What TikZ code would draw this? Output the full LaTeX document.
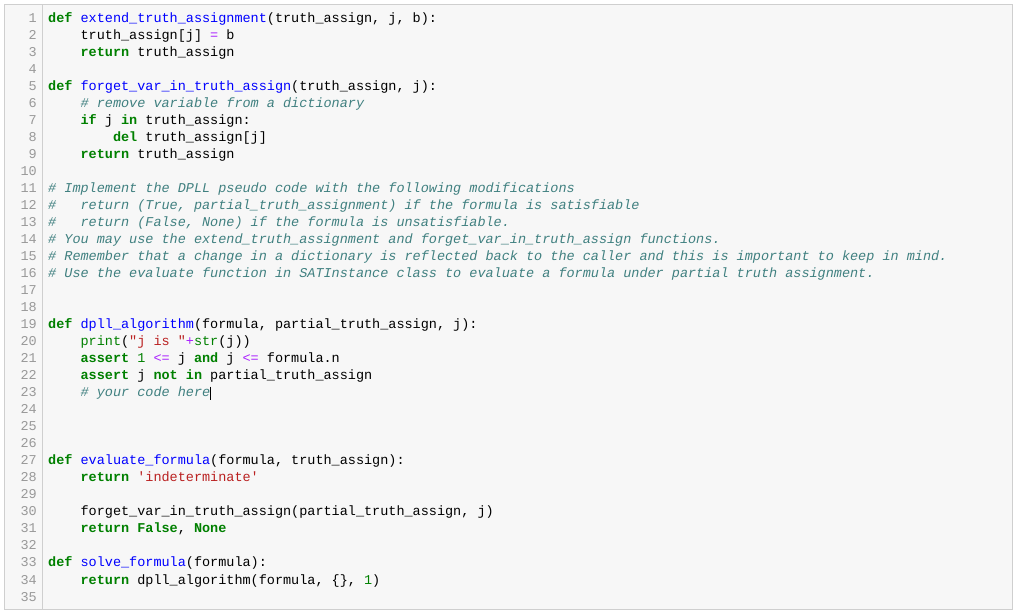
\documentclass[tikz,border=0pt]{standalone}
\usepackage{fontspec}
\newfontfamily\cf{Liberation Mono}
\newcommand\fixsp{\fontdimen2\font=0.6em\fontdimen3\font=0pt\fontdimen4\font=0pt\fontdimen7\font=0pt\relax}
\definecolor{kwc}{HTML}{008000}
\definecolor{fnc}{HTML}{0000FF}
\definecolor{cmc}{HTML}{408080}
\definecolor{stc}{HTML}{BA2121}
\definecolor{opc}{HTML}{AA22FF}
\definecolor{lnc}{HTML}{999999}
\definecolor{bgc}{HTML}{F7F7F7}
\definecolor{bdc}{HTML}{CFCFCF}
\newcommand\kw[1]{\textcolor{kwc}{\bfseries\fixsp #1}}
\newcommand\fn[1]{\textcolor{fnc}{#1}}
\newcommand\cm[1]{\textcolor{cmc}{\itshape\fixsp #1}}
\newcommand\st[1]{\textcolor{stc}{#1}}
\newcommand\op[1]{\textcolor{opc}{#1}}
\newcommand\nm[1]{\textcolor{kwc}{#1}}
\begin{document}
\begin{tikzpicture}[x=1pt,y=-1pt,
  L/.style={anchor=base west,inner sep=0pt,font=\cf\fontsize{13.5}{15}\selectfont\fixsp},
  N/.style={anchor=base east,inner sep=0pt,text=lnc,font=\cf\fontsize{13.5}{15}\selectfont}]
\useasboundingbox (0,0) rectangle (1016,613);
\fill[white] (0,0) rectangle (1016,613);
\draw[bdc,fill=bgc] (4.5,4.5) rectangle (1012.5,609.5);
\draw[bdc] (42,4.5) -- (42,609.5);
\foreach \i in {1,...,35}{\node[N] (n\i) at (37,{22+(\i-1)*17.03}) {\i};}
\def\A{48}\def\B{80.4}\def\C{112.8}
\newcommand\codeline[3]{\node[L] (l#1) at (#2,{22+(#1-1)*17.03}) {#3};}
\codeline{1}{\A}{\kw{def} \fn{extend\_truth\_assignment}(truth\_assign, j, b):}
\codeline{2}{\B}{truth\_assign[j] \op{=} b}
\codeline{3}{\B}{\kw{return} truth\_assign}
\codeline{5}{\A}{\kw{def} \fn{forget\_var\_in\_truth\_assign}(truth\_assign, j):}
\codeline{6}{\B}{\cm{\# remove variable from a dictionary}}
\codeline{7}{\B}{\kw{if} j \kw{in} truth\_assign:}
\codeline{8}{\C}{\kw{del} truth\_assign[j]}
\codeline{9}{\B}{\kw{return} truth\_assign}
\codeline{11}{\A}{\cm{\# Implement the DPLL pseudo code with the following modifications}}
\codeline{12}{\A}{\cm{\#~~~return (True, partial\_truth\_assignment) if the formula is satisfiable}}
\codeline{13}{\A}{\cm{\#~~~return (False, None) if the formula is unsatisfiable.}}
\codeline{14}{\A}{\cm{\# You may use the extend\_truth\_assignment and forget\_var\_in\_truth\_assign functions.}}
\codeline{15}{\A}{\cm{\# Remember that a change in a dictionary is reflected back to the caller and this is important to keep in mind.}}
\codeline{16}{\A}{\cm{\# Use the evaluate function in SATInstance class to evaluate a formula under partial truth assignment.}}
\codeline{19}{\A}{\kw{def} \fn{dpll\_algorithm}(formula, partial\_truth\_assign, j):}
\codeline{20}{\B}{\nm{print}(\st{"j is "}\op{+}\nm{str}(j))}
\codeline{21}{\B}{\kw{assert} \nm{1} \op{<=} j \kw{and} j \op{<=} formula.n}
\codeline{22}{\B}{\kw{assert} j \kw{not} \kw{in} partial\_truth\_assign}
\codeline{23}{\B}{\cm{\# your code here}}
\codeline{27}{\A}{\kw{def} \fn{evaluate\_formula}(formula, truth\_assign):}
\codeline{28}{\B}{\kw{return} \st{'indeterminate'}}
\codeline{30}{\B}{forget\_var\_in\_truth\_assign(partial\_truth\_assign, j)}
\codeline{31}{\B}{\kw{return} \kw{False}, \kw{None}}
\codeline{33}{\A}{\kw{def} \fn{solve\_formula}(formula):}
\codeline{34}{\B}{\kw{return} dpll\_algorithm(formula, \{\}, \nm{1})}
\draw[black,line width=0.8pt] (l23.north east) -- (l23.south east);
\end{tikzpicture}
\end{document}
